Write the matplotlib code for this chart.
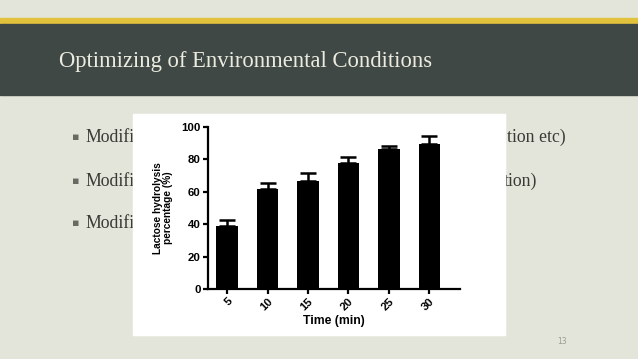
import matplotlib
matplotlib.use("Agg")
import matplotlib.pyplot as plt
from matplotlib.patches import Rectangle
import numpy as np

# ---- data ----
times = ["5", "10", "15", "20", "25", "30"]
hydrolysis = [38.8, 61.4, 66.7, 77.4, 86.1, 89.1]
errors = [3.7, 3.7, 5.0, 3.9, 2.0, 5.2]
yticks = [0, 20, 40, 60, 80, 100]
title = "Optimizing of Environmental Conditions"
bullets_left = ["Modifi", "Modifi", "Modifi"]
bullets_right = ["tion etc)", "tion)", ""]

W, H = 638, 359
fig = plt.figure(figsize=(W / 100, H / 100), dpi=100)
fig.patch.set_facecolor("#e4e5da")

bg = fig.add_axes([0, 0, 1, 1])
bg.set_xlim(0, W)
bg.set_ylim(H, 0)
bg.axis("off")

bg.add_patch(Rectangle((0, 17.5), W, 6.5, color="#e2c23c", zorder=1))
bg.add_patch(Rectangle((0, 24), W, 71, color="#3f4845", zorder=1))
bg.text(59, 61, title, fontsize=16.3, color="#ebebdf", family="Liberation Serif",
        va="center", ha="left", zorder=2)

ys = [137, 181, 223]
rights = [566, 537, 0]
for y, tl, tr, xr in zip(ys, bullets_left, bullets_right, rights):
    bg.text(72, y, "\u25aa", fontsize=8, color="#6a6a62", va="center", ha="left",
            family=["DejaVu Sans"], zorder=2)
    bg.text(85, y, tl, fontsize=12.8, color="#3a3a36", va="center", ha="left",
            family="Liberation Serif", zorder=2)
    if tr:
        bg.text(xr, y, tr, fontsize=12.8, color="#3a3a36", va="center", ha="right",
                family="Liberation Serif", zorder=2)

bg.add_patch(Rectangle((133, 114), 372, 221, color="white", zorder=3))
bg.text(562, 342, "13", fontsize=5.5, color="#9a9a90", ha="center", va="center", zorder=2)

# ---- chart ----
x0, x1 = 207.7, 460
yb, yt = 289, 126.7
ax = fig.add_axes([x0 / W, 1 - yb / H, (x1 - x0) / W, (yb - yt) / H])
ax.set_facecolor("none")
ax.set_zorder(5)
pos = np.arange(len(times))
ax.bar(pos, hydrolysis, width=0.53, color="black", zorder=3)
ax.errorbar(pos, hydrolysis, yerr=[np.zeros(len(errors)), errors], fmt="none",
            ecolor="black", elinewidth=1.8, capsize=6, capthick=1.8, zorder=2)
ax.set_xlim(-0.48, 5.76)
ax.set_ylim(0, 100)
ax.set_yticks(yticks)
ax.set_xticks(pos)
ax.set_xticklabels(times, rotation=45, ha="right", rotation_mode="anchor")
for s in ["top", "right"]:
    ax.spines[s].set_visible(False)
for s in ["left", "bottom"]:
    ax.spines[s].set_linewidth(1.6)
ax.tick_params(width=1.6, length=3.5, labelsize=8.2, pad=1.5)
for lab in ax.get_xticklabels() + ax.get_yticklabels():
    lab.set_fontweight("bold")
    lab.set_family("Liberation Sans")
ax.set_ylabel("Lactose hydrolysis\npercentage (%)", fontsize=7.3, fontweight="bold",
              family="Liberation Sans", linespacing=1.05, labelpad=6)
ax.set_xlabel("Time (min)", fontsize=8.8, fontweight="bold", family="Liberation Sans",
              labelpad=2)

fig.savefig("out.png", dpi=100, facecolor=fig.get_facecolor())
